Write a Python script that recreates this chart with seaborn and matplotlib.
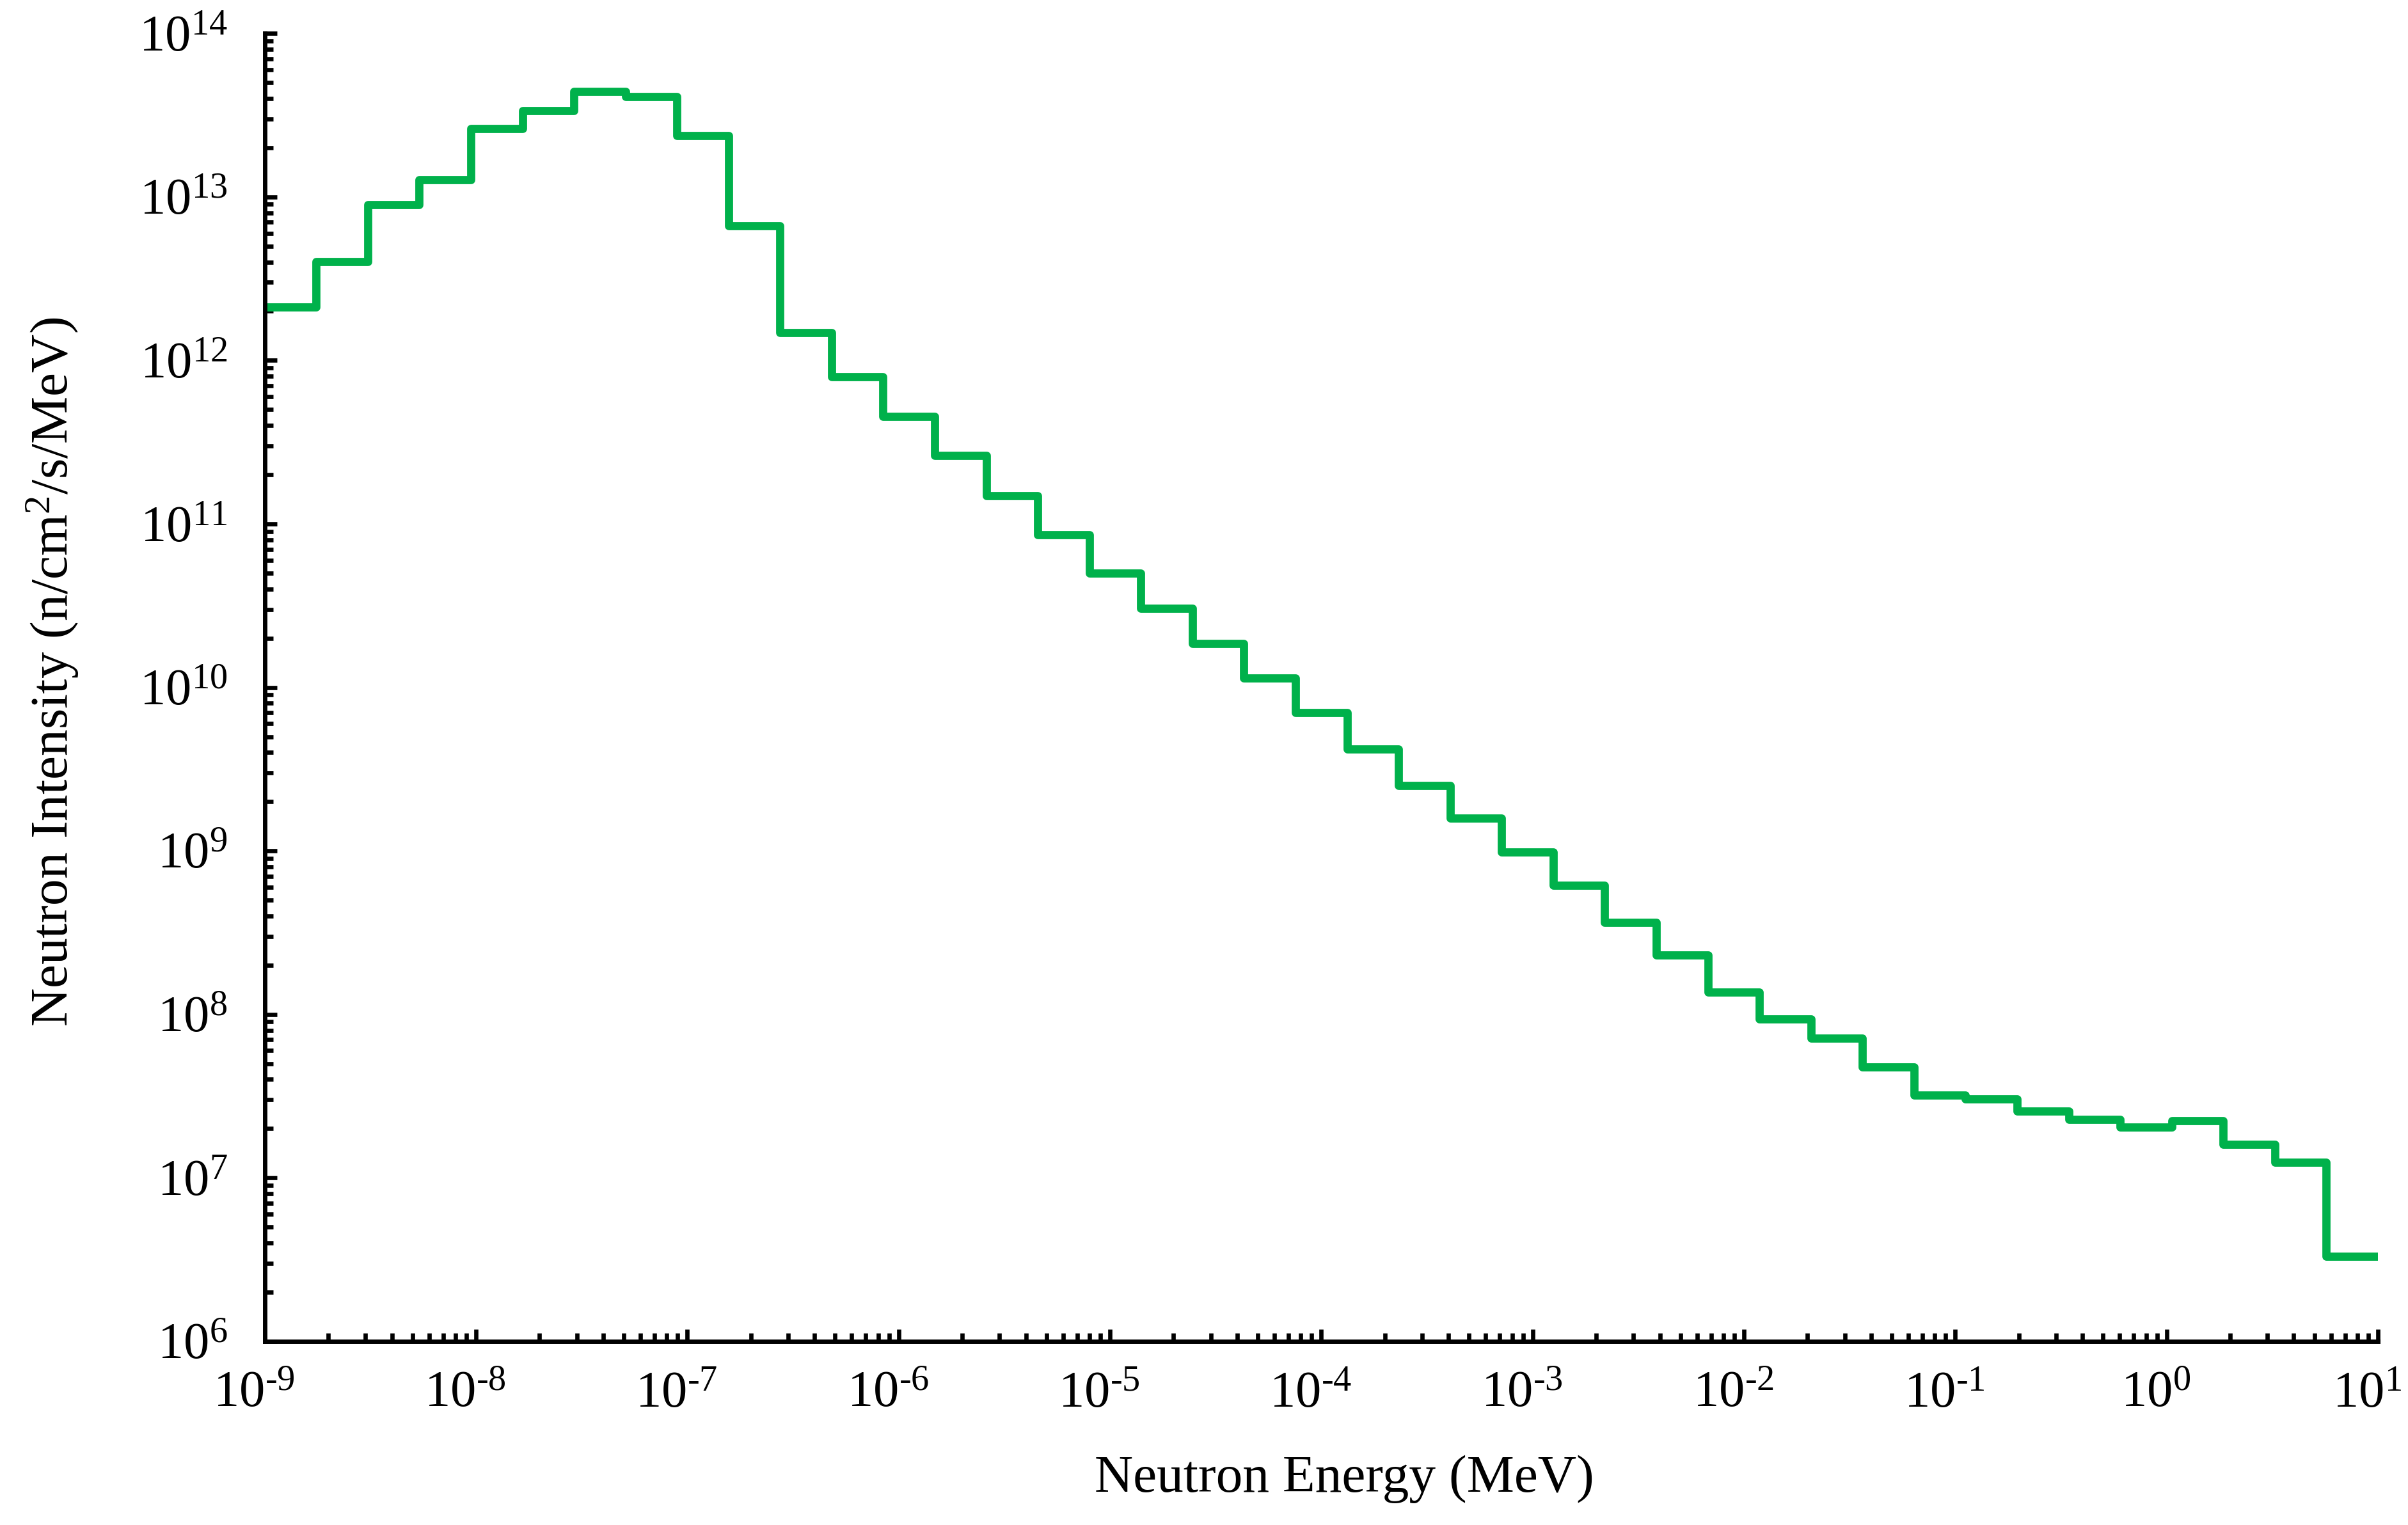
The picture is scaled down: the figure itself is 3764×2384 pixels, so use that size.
import numpy as np
import pandas as pd
import seaborn as sns
import matplotlib
matplotlib.use("Agg")
import matplotlib.pyplot as plt
from matplotlib.ticker import LogLocator, FuncFormatter, NullFormatter
from matplotlib.transforms import ScaledTranslation

# bin edges (MeV), 41 groups from 1e-9 to 10 MeV
energy_edges = [1.000e-9, 1.754e-9, 3.075e-9, 5.393e-9, 9.454e-9,
                1.658e-8, 2.907e-8, 5.098e-8, 8.939e-8, 1.567e-7,
                2.748e-7, 4.819e-7, 8.450e-7, 1.482e-6, 2.598e-6,
                4.556e-6, 7.990e-6, 1.401e-5, 2.456e-5, 4.307e-5,
                7.551e-5, 1.324e-4, 2.322e-4, 4.071e-4, 7.139e-4,
                1.252e-3, 2.195e-3, 3.849e-3, 6.749e-3, 1.183e-2,
                2.075e-2, 3.639e-2, 6.380e-2, 1.119e-1, 1.962e-1,
                3.440e-1, 6.032e-1, 1.058, 1.855, 3.252,
                5.703, 10.0]

# group intensity (n/cm2/s/MeV)
intensity = [2.12e12, 4.02e12, 8.95e12, 1.27e13, 2.62e13,
             3.38e13, 4.42e13, 4.09e13, 2.36e13, 6.68e12,
             1.48e12, 7.96e11, 4.54e11, 2.62e11, 1.49e11,
             8.59e10, 4.99e10, 3.04e10, 1.86e10, 1.14e10,
             6.98e9, 4.21e9, 2.52e9, 1.58e9, 9.84e8,
             6.16e8, 3.64e8, 2.30e8, 1.37e8, 9.37e7,
             7.16e7, 4.78e7, 3.22e7, 3.03e7, 2.56e7,
             2.28e7, 2.04e7, 2.24e7, 1.61e7, 1.24e7,
             3.30e6]

sns.set_theme(style="ticks")
plt.rcParams["font.family"] = ["Liberation Serif", "DejaVu Serif"]
plt.rcParams["mathtext.fontset"] = "custom"
plt.rcParams["mathtext.rm"] = "Liberation Serif"
plt.rcParams["mathtext.it"] = "Liberation Serif:italic"
plt.rcParams["mathtext.bf"] = "Liberation Serif:bold"

# step line: repeat last value at the upper edge
df = pd.DataFrame({"energy": energy_edges,
                   "intensity": intensity + [intensity[-1]]})

fig = plt.figure(figsize=(18.82, 11.92), dpi=200)
ax = fig.add_axes([0.1099, 0.1204, 0.8776, 0.8577])

sns.lineplot(data=df, x="energy", y="intensity", ax=ax, estimator=None,
             sort=False, drawstyle="steps-post", color="#00B14B",
             linewidth=4.6, solid_capstyle="round", solid_joinstyle="round")

ax.set_xscale("log")
ax.set_yscale("log")
ax.set_xlim(1e-9, 1e1)
ax.set_ylim(1e6, 1e14)


def pow_label(v, pos):
    e = int(round(np.log10(v)))
    if e < 0:
        return r"$10^{\text{-}%d}$" % (-e)
    return r"$10^{%d}$" % e


ax.xaxis.set_major_locator(LogLocator(base=10, numticks=30))
ax.yaxis.set_major_locator(LogLocator(base=10, numticks=30))
ax.xaxis.set_minor_locator(LogLocator(base=10, subs=np.arange(2, 10), numticks=100))
ax.yaxis.set_minor_locator(LogLocator(base=10, subs=np.arange(2, 10), numticks=100))
ax.xaxis.set_major_formatter(FuncFormatter(pow_label))
ax.yaxis.set_major_formatter(FuncFormatter(pow_label))
ax.xaxis.set_minor_formatter(NullFormatter())
ax.yaxis.set_minor_formatter(NullFormatter())

for s in ["top", "right"]:
    ax.spines[s].set_visible(False)
for s in ["left", "bottom"]:
    ax.spines[s].set_linewidth(2.5)
    ax.spines[s].set_color("black")

ax.tick_params(axis="both", which="major", direction="in", length=6.8,
               width=2.4, color="black", labelsize=29, labelcolor="black")
ax.tick_params(axis="both", which="minor", direction="in", length=4.8,
               width=2.4, color="black")
ax.tick_params(axis="x", which="major", pad=17)
ax.tick_params(axis="y", which="major", pad=21)

# x tick labels sit a little left of their ticks in the original
shift = ScaledTranslation(-6 / 72, 0, fig.dpi_scale_trans)
for lab in ax.get_xticklabels():
    lab.set_transform(lab.get_transform() + shift)

ax.set_xlabel("Neutron Energy (MeV)", fontsize=30, color="black")
ax.set_ylabel("Neutron Intensity (n/cm$^2$/s/MeV)", fontsize=30, color="black")
ax.xaxis.label.set_va("baseline")
ax.xaxis.set_label_coords(0.511, -0.1149)
ax.yaxis.label.set_va("baseline")
ax.yaxis.set_label_coords(-0.0931, 0.512)

fig.savefig("out.png", dpi=200, facecolor="white")
